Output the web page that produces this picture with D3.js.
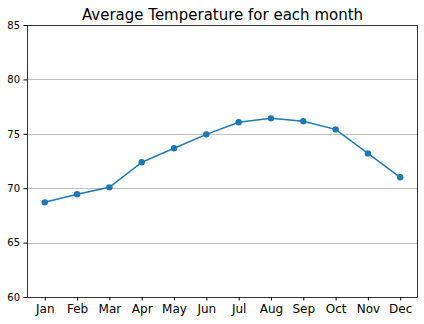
<!DOCTYPE html>
<html><head><meta charset="utf-8">
<script src="https://cdn.jsdelivr.net/npm/d3@7"></script>
<style>body{margin:0;background:#fff;} svg{display:block;font-family:"DejaVu Sans",sans-serif;}</style>
</head><body>
<script>
const months = ["Jan","Feb","Mar","Apr","May","Jun","Jul","Aug","Sep","Oct","Nov","Dec"];
const temps = [68.7, 69.45, 70.08, 72.38, 73.67, 74.95, 76.06, 76.42, 76.15, 75.41, 73.2, 71.0];
const yTicks = [60, 65, 70, 75, 80, 85];
const title = "Average Temperature for each month";

const W = 424, H = 324;
const m = {l: 27, r: 6, t: 25, b: 27};
const svg = d3.select("body").append("svg").attr("width", W).attr("height", H);
svg.append("rect").attr("width", W).attr("height", H).attr("fill", "#fff");

const x = d3.scaleLinear().domain([-0.55, 11.55]).range([m.l, W - m.r]);
const y = d3.scaleLinear().domain([60, 85]).range([H - m.b, m.t]);

// grid
svg.append("g").selectAll("line").data(yTicks.filter(d => d > 60 && d < 85)).join("line")
  .attr("x1", m.l).attr("x2", W - m.r)
  .attr("y1", d => Math.round(y(d)) + 0.5).attr("y2", d => Math.round(y(d)) + 0.5)
  .attr("stroke", "#b0b0b0").attr("stroke-width", 0.8);

// axes
const yAxis = d3.axisLeft(y).tickValues(yTicks).tickSize(3.5).tickPadding(3.5);
const gy = svg.append("g").attr("transform", `translate(${m.l},0)`).call(yAxis);
gy.select(".domain").remove();
gy.selectAll("text").attr("font-size", 10).attr("fill", "#000").attr("font-family", "DejaVu Sans");
gy.selectAll("line").attr("stroke", "#000");

const xAxis = d3.axisBottom(x).tickValues(d3.range(12)).tickFormat(i => months[i]).tickSize(3.5).tickPadding(3.5);
const gx = svg.append("g").attr("transform", `translate(0,${H - m.b})`).call(xAxis);
gx.select(".domain").remove();
gx.selectAll("text").attr("font-size", 12).attr("fill", "#000").attr("font-family", "DejaVu Sans");
gx.selectAll("line").attr("stroke", "#000");

// frame
svg.append("rect").attr("x", m.l + 0.5).attr("y", m.t + 0.5)
  .attr("width", W - m.r - m.l - 1).attr("height", H - m.b - m.t)
  .attr("fill", "none").attr("stroke", "#000").attr("stroke-width", 0.8);

// line
const line = d3.line().x((d, i) => x(i)).y(d => y(d));
svg.append("path").datum(temps).attr("d", line)
  .attr("fill", "none").attr("stroke", "#1f77b4").attr("stroke-width", 1.5);
svg.append("g").selectAll("circle").data(temps).join("circle")
  .attr("cx", (d, i) => x(i)).attr("cy", d => y(d)).attr("r", 3.2).attr("fill", "#1f77b4");

// title
svg.append("text").attr("x", (m.l + W - m.r) / 2).attr("y", 19.5)
  .attr("text-anchor", "middle").attr("font-size", 15).attr("fill", "#000").text(title);
</script>
</body></html>
